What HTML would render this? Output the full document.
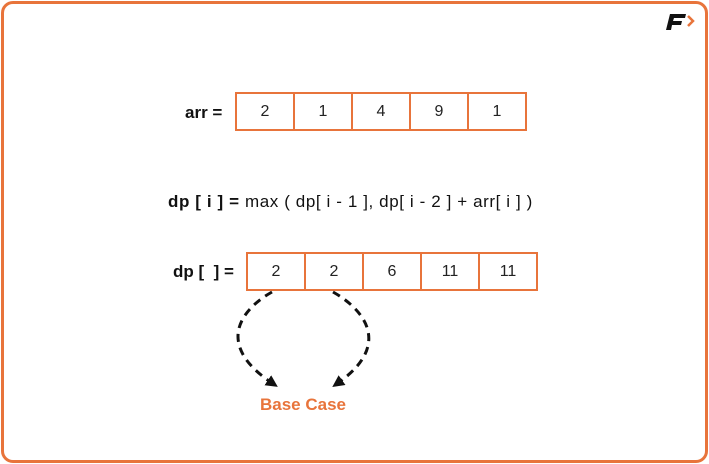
<!DOCTYPE html><html><head><style>
body{margin:0;width:709px;height:464px;background:#fff;overflow:hidden;font-family:"Liberation Sans",sans-serif}
.frame{position:absolute;left:1px;top:1px;width:701px;height:456px;border:3px solid #E8743B;border-radius:12px}
.row{position:absolute;display:flex;border:2px solid #E8743B;height:35px}
.row div{width:56px;border-right:2px solid #E8743B;text-align:center;line-height:35px;font-size:16px;color:#222}
.row div:last-child{border-right:none}
.t{position:absolute;font-size:16px;color:#111;white-space:nowrap}
</style></head><body>
<div class="frame"></div>
<svg style="position:absolute;left:666px;top:10px" width="32" height="22"><path d="M4 4h16l-1 4h-11l-1 3h9l-1 4h-9l-1 5h-5z" fill="#111"/><path d="M22 6l5 5-5 5" stroke="#E8743B" stroke-width="2.5" fill="none"/></svg>
<div class="t" style="left:185px;top:103px;font-weight:bold;font-size:17px">arr =</div>
<div class="row" style="left:235px;top:92px"><div>2</div><div>1</div><div>4</div><div>9</div><div>1</div></div>
<div class="t" style="left:168px;top:192px;font-size:17px;letter-spacing:0.6px"><b>dp [ i ] =</b> max ( dp[ i - 1 ], dp[ i - 2 ] + arr[ i ] )</div>
<div class="t" style="left:173px;top:262px;font-weight:bold;font-size:17px">dp [&nbsp; ] =</div>
<div class="row" style="left:246px;top:252px"><div>2</div><div>2</div><div>6</div><div>11</div><div>11</div></div>
<svg style="position:absolute;left:0;top:0" width="709" height="464">
<defs><marker id="a" markerUnits="userSpaceOnUse" markerWidth="12" markerHeight="12" refX="5" refY="6" orient="auto"><path d="M0 0L12 6L0 12z" fill="#111"/></marker></defs>
<path d="M272 292C240 310 215 345 272 383" stroke="#111" stroke-width="3" fill="none" stroke-dasharray="8 6" marker-end="url(#a)"/>
<path d="M333 292C365 310 392 345 338 383" stroke="#111" stroke-width="3" fill="none" stroke-dasharray="8 6" marker-end="url(#a)"/>
</svg>
<div class="t" style="left:260px;top:395px;font-weight:bold;color:#E8743B;font-size:17px">Base Case</div>
</body></html>
